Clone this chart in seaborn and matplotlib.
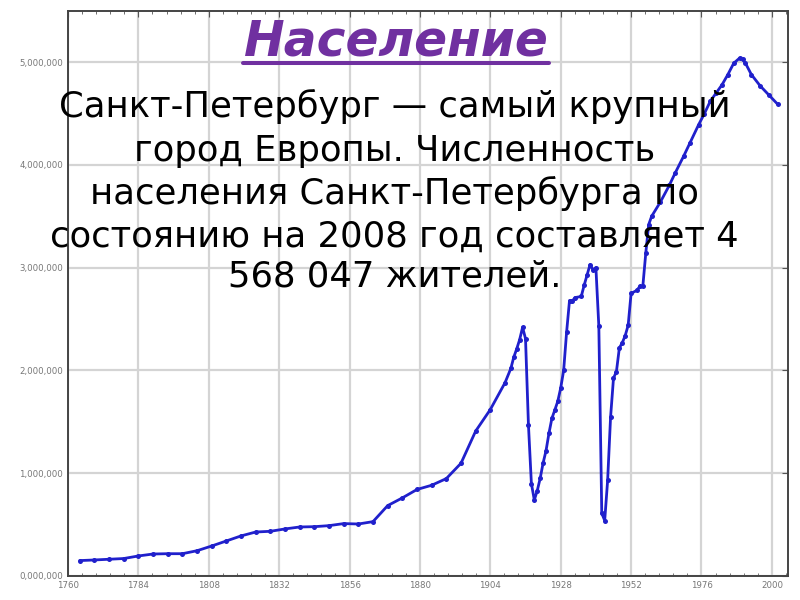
import matplotlib
matplotlib.use("Agg")
import matplotlib.pyplot as plt
import matplotlib.ticker as mticker
from matplotlib.lines import Line2D
import seaborn as sns
import pandas as pd

years = [1764, 1769, 1774, 1779, 1784, 1789, 1794, 1799, 1804, 1809,
         1814, 1819, 1824, 1829, 1834, 1839, 1844, 1849, 1854, 1859,
         1864, 1869, 1874, 1879, 1884, 1889, 1894, 1899, 1904, 1909,
         1911, 1912, 1913, 1914, 1915, 1916, 1917, 1918, 1919, 1920,
         1921, 1922, 1923, 1924, 1925, 1926, 1927, 1928, 1929, 1930,
         1931, 1932, 1933, 1935, 1936, 1937, 1938, 1939, 1940, 1941,
         1942, 1943, 1944, 1945, 1946, 1947, 1948, 1949, 1950, 1951,
         1952, 1954, 1955, 1956, 1957, 1958, 1959, 1962, 1965, 1967,
         1970, 1972, 1975, 1977, 1979, 1981, 1983, 1985, 1987, 1989,
         1990, 1991, 1993, 1996, 1999, 2002]
population = [150000, 156000, 163000, 170000, 195000, 214000, 217000, 217000, 246000, 292000,
              341000, 390000, 428000, 435000, 458000, 477000, 480000, 490000, 510000, 506000,
              529000, 685000, 760000, 842000, 883000, 948000, 1097000, 1410000, 1620000, 1880000,
              2020000, 2130000, 2210000, 2300000, 2420000, 2310000, 1470000, 900000, 740000, 830000,
              950000, 1100000, 1220000, 1390000, 1535000, 1616000, 1700000, 1830000, 2000000, 2370000,
              2680000, 2680000, 2710000, 2720000, 2830000, 2930000, 3030000, 2980000, 3000000, 2430000,
              610000, 540000, 930000, 1545000, 1925000, 1990000, 2220000, 2270000, 2340000, 2440000,
              2750000, 2780000, 2820000, 2820000, 3140000, 3420000, 3500000, 3640000, 3800000, 3920000,
              4090000, 4210000, 4390000, 4500000, 4620000, 4700000, 4780000, 4880000, 4990000, 5040000,
              5030000, 4990000, 4880000, 4770000, 4680000, 4590000]

x_ticks = [1760, 1784, 1808, 1832, 1856, 1880, 1904, 1928, 1952, 1976, 2000]
y_ticks = [0, 1000000, 2000000, 3000000, 4000000, 5000000]

title_text = "Население"
body_lines = ["Санкт-Петербург — самый крупный",
              "город Европы. Численность",
              "населения Санкт-Петербурга по",
              "состоянию на 2008 год составляет 4",
              "568 047 жителей."]

df = pd.DataFrame({"year": years, "population": population})

sns.set_style("white")
plt.rcParams['font.family'] = ['DejaVu Sans']

fig = plt.figure(figsize=(8, 6), dpi=100)
ax = fig.add_axes([0.085, 0.04, 0.9, 0.942])

sns.lineplot(data=df, x="year", y="population", ax=ax, color="#2020cc",
             linewidth=2.0, marker="o", markersize=3.6, markeredgewidth=0,
             zorder=3)

ax.set_xlim(1760, 2005.5)
ax.set_ylim(0, 5500000)
ax.set_xticks(x_ticks)
ax.set_yticks(y_ticks)
ax.xaxis.set_minor_locator(mticker.AutoMinorLocator(5))
ax.yaxis.set_major_formatter(mticker.FuncFormatter(lambda v, p: format(int(v), '09,d')))
ax.set_xlabel("")
ax.set_ylabel("")
ax.grid(True, which="major", color="#d4d4d4", linewidth=1.6, zorder=0)
ax.tick_params(axis="both", which="major", labelsize=6.2, labelcolor="#777777",
               direction="in", length=4, color="#555555", top=True, right=True)
ax.tick_params(axis="x", which="minor", direction="in", length=2.5, color="#555555",
               top=True, bottom=True)
for s in ax.spines.values():
    s.set_color("#444444")
    s.set_linewidth(1.4)

fig.text(0.4956, 1 - 55 / 600, title_text, ha="center", va="baseline", fontsize=35,
         fontweight="bold", fontstyle="italic", color="#7030a0", zorder=5)
fig.add_artist(Line2D([0.304, 0.686], [0.8945, 0.8945], color="#7030a0", linewidth=2.9))

baselines_px = [117, 161, 204, 247, 287]
for line, b in zip(body_lines, baselines_px):
    fig.text(0.4935, 1 - b / 600, line, ha="center", va="baseline", fontsize=25.5,
             color="black", zorder=5)

fig.savefig("out.png", dpi=100)
